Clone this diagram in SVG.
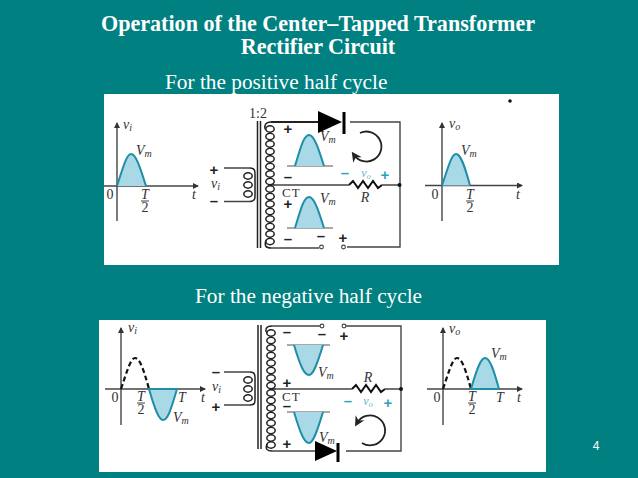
<svg xmlns="http://www.w3.org/2000/svg" xmlns:xlink="http://www.w3.org/1999/xlink" width="638" height="478" viewBox="0 0 638 478">
<style>
.h{font:bold 22.100px "Liberation Serif",serif;fill:#fff;text-anchor:middle}
.s{font:21.300px "Liberation Serif",serif;fill:#fff}
.w{fill:none;stroke:#444;stroke-width:1.4}
.k{fill:none;stroke:#222;stroke-width:1.8}
.ax{fill:none;stroke:#444;stroke-width:1.4}
.c{fill:none;stroke:#222;stroke-width:1.5}
.wave{fill:#a9d8e6;stroke:#1f8fa8;stroke-width:2}
.base{stroke:#555;stroke-width:1.1}
.dash{fill:none;stroke:#111;stroke-width:2.2;stroke-dasharray:5 3}
.t{font:14px "Liberation Serif",serif;fill:#333}
.i{font-style:italic}
.sub{font-size:10px}
.sg{font:bold 15px "Liberation Sans",sans-serif;fill:#222;text-anchor:middle}
.bl{font:bold 15px "Liberation Sans",sans-serif;fill:#2ba3bd;text-anchor:middle}
.vo{font:italic 12px "Liberation Serif",serif;fill:#5bb8cc;text-anchor:middle}
.m{text-anchor:middle}
.o{fill:#fff;stroke:#444;stroke-width:1.1}
.r{fill:none;stroke:#111;stroke-width:2}
.ct{font:13px "Liberation Serif",serif;fill:#333;letter-spacing:1px}
</style>
<defs>
<marker id="ah" viewBox="0 0 6 6" refX="5" refY="3" markerWidth="6" markerHeight="6" orient="auto" markerUnits="userSpaceOnUse"><path d="M0 0L6 3L0 6Z" fill="#333"/></marker>
<marker id="loop" viewBox="0 0 10 10" refX="6" refY="5" markerWidth="10" markerHeight="10" orient="auto" markerUnits="userSpaceOnUse"><path d="M0 0L10 5L0 10L3 5Z" fill="#222"/></marker>
<ellipse id="l" rx="4.200" ry="3.200" fill="none" stroke="#222" stroke-width="1.500"/>
</defs>
<rect id="background" width="638" height="478" fill="#008080"/>
<g id="titles">
<text class="h" x="318" y="31">Operation of the Center–Tapped Transformer</text>
<text class="h" x="318" y="54">Rectifier Circuit</text>
<text class="s" x="165" y="89">For the positive half cycle</text>
<text class="s" x="195" y="303">For the negative half cycle</text>
<text x="596" y="450" font-family="Liberation Sans,sans-serif" font-size="12" fill="#fff" text-anchor="middle">4</text>
</g>
<rect id="panel-top" x="104" y="94" width="455" height="171" fill="#fff"/>
<rect id="panel-bottom" x="99" y="320" width="447" height="152" fill="#fff"/>
<circle id="speck" cx="510" cy="101" r="1.800" fill="#111"/>

<g id="graph-vi-positive">
<path class="ax" d="M117 221V123" marker-end="url(#ah)"/>
<path class="ax" d="M104 186H198" marker-end="url(#ah)"/>
<path class="wave" d="M117 186C124 164 127 154 131 154C136 154 140 167 146 186"/>
<text class="t i" x="123" y="129">v<tspan class="sub" dy="2">i</tspan></text>
<text class="t i" x="136" y="155">V<tspan class="sub" dy="2">m</tspan></text>
<text class="t m" x="110" y="199">0</text>
<text class="t i m" x="145" y="199">T</text><path class="base" d="M141 201H149"/><text class="t m" x="145" y="212">2</text>
<text class="t i m" x="194" y="199">t</text>
</g>

<g id="transformer-top">
<path class="c" d="M257.500 121V248M260.500 121V248"/>
<path class="c" d="M271 122C264 122 264 128 266 130M266 240C264 246 266 248 271 248M268 185H275"/>
<use href="#l" x="270" y="129"/><use href="#l" x="270" y="136.500"/><use href="#l" x="270" y="144"/><use href="#l" x="270" y="151.500"/><use href="#l" x="270" y="159"/><use href="#l" x="270" y="166.500"/><use href="#l" x="270" y="174"/><use href="#l" x="270" y="181.500"/><use href="#l" x="270" y="189"/><use href="#l" x="270" y="196.500"/><use href="#l" x="270" y="204"/><use href="#l" x="270" y="211.500"/><use href="#l" x="270" y="219"/><use href="#l" x="270" y="226.500"/><use href="#l" x="270" y="234"/><use href="#l" x="270" y="241.500"/>
<path class="c" d="M250 168C256 168 255 172 255 180V190C255 198 256 201 250 201.500"/>
<use href="#l" x="248" y="176"/><use href="#l" x="248" y="185"/><use href="#l" x="248" y="194"/>
<text class="t m" x="258" y="118">1:2</text>
<text class="sg" x="214" y="174.500">+</text><text class="sg" x="214" y="206">–</text>
<text class="t i" x="211" y="188">v<tspan class="sub" dy="2">i</tspan></text>
<text class="ct" x="282" y="197">CT</text>
</g>
<g id="waves-top">
<path class="base" d="M287 166H333M287 228H333"/>
<path class="wave" d="M295 166C301 146 304 135 309 135C314 135 318 147 324 166"/>
<path class="wave" d="M295 228C301 208 304 197 309 197C314 197 318 209 324 228"/>
<text class="sg" x="288" y="133.500">+</text><text class="sg" x="288" y="182">–</text><text class="sg" x="288" y="208.500">+</text><text class="sg" x="288" y="244">–</text><text class="sg" x="321" y="241">–</text><text class="sg" x="343" y="242.500">+</text>
<text class="t i" x="320" y="141">V<tspan class="sub" dy="2">m</tspan></text>
<text class="t i" x="320" y="203">V<tspan class="sub" dy="2">m</tspan></text>
</g>
<g id="diode-top">
<path d="M318 111L342 122L318 133Z" fill="#000"/><path d="M344 112V134" stroke="#000" stroke-width="3"/>
</g>
<g id="resistor-top">
<path class="r" d="M349 185L353 181L358 188L363 181L368 188L373 181L378 188L382 185"/>
<text class="t i m" x="365" y="202">R</text>
<text class="bl" x="345" y="178">–</text><text class="vo" x="366" y="177">v<tspan font-size="8" dy="2">o</tspan></text><text class="bl" x="385" y="179.500">+</text>
</g>
<g id="connectors-top">
<path class="k" d="M271 122H318"/>
<path class="w" d="M350 122H400V247H347M275 185H349M382 185H400M271 248H319"/>
<path class="w" d="M224 168H250M224 201.500H250"/>
<circle cx="399.500" cy="185" r="2" fill="#111"/>
<circle class="o" cx="321.500" cy="247" r="1.900"/><circle class="o" cx="343.500" cy="247" r="1.900"/>
<path class="k" d="M360 133A15 15 0 1 1 354 155" marker-end="url(#loop)"/>
</g>
<g id="graph-vo-positive">
<path class="ax" d="M442 221V123" marker-end="url(#ah)"/>
<path class="ax" d="M425 185.500H522" marker-end="url(#ah)"/>
<path class="wave" d="M442 185.500C449 164 452 154 456 154C461 154 465 167 470 185.500"/>
<text class="t i" x="449" y="128">v<tspan class="sub" dy="2">o</tspan></text>
<text class="t i" x="461" y="155">V<tspan class="sub" dy="2">m</tspan></text>
<text class="t m" x="435" y="199">0</text>
<text class="t i m" x="470" y="199">T</text><path class="base" d="M466 201H474"/><text class="t m" x="470" y="212">2</text>
<text class="t i m" x="518" y="199">t</text>
</g>

<g id="graph-vi-negative">
<path class="ax" d="M121 425V328" marker-end="url(#ah)"/>
<path class="ax" d="M105 389H205" marker-end="url(#ah)"/>
<path class="dash" d="M121 389C128 368 131 358 135 358C140 358 144 371 149 389"/>
<path class="wave" d="M149 389C155 410 159 420 163 420C168 420 171 409 177 389Z"/>
<text class="t i" x="128" y="332">v<tspan class="sub" dy="2">i</tspan></text>
<text class="t i" x="173" y="422">V<tspan class="sub" dy="2">m</tspan></text>
<text class="t m" x="115" y="402">0</text>
<text class="t i m" x="141" y="401">T</text><path class="base" d="M137 403H145"/><text class="t m" x="141" y="414">2</text>
<text class="t i m" x="182" y="402">T</text><text class="t i m" x="203" y="402">t</text>
</g>
<g id="transformer-bottom">
<path class="c" d="M258 325V449M261 325V449"/>
<path class="c" d="M272 326C265 326 265 331 267 333M267 444C265 449 267 451 272 451M269 389H276"/>
<use href="#l" x="271" y="333"/><use href="#l" x="271" y="340.500"/><use href="#l" x="271" y="348"/><use href="#l" x="271" y="355.500"/><use href="#l" x="271" y="363"/><use href="#l" x="271" y="370.500"/><use href="#l" x="271" y="378"/><use href="#l" x="271" y="385.500"/><use href="#l" x="271" y="393"/><use href="#l" x="271" y="400.500"/><use href="#l" x="271" y="408"/><use href="#l" x="271" y="415.500"/><use href="#l" x="271" y="423"/><use href="#l" x="271" y="430.500"/><use href="#l" x="271" y="438"/><use href="#l" x="271" y="445"/>
<path class="c" d="M250 372C256 372 255 376 255 384V394C255 402 256 405 250 405"/>
<use href="#l" x="248" y="380"/><use href="#l" x="248" y="389"/><use href="#l" x="248" y="398"/>
<text class="sg" x="216" y="377">–</text><text class="sg" x="216" y="411.500">+</text>
<text class="t i" x="212" y="391">v<tspan class="sub" dy="2">i</tspan></text>
<text class="ct" x="282" y="401">CT</text>
</g>
<g id="waves-bottom">
<path class="base" d="M287 345H330M287 412H330"/>
<path class="wave" d="M294 345C300 365 304 375 309 375C313 375 317 365 323 345"/>
<path class="wave" d="M294 412C300 432 304 443 309 443C313 443 317 432 323 412"/>
<text class="sg" x="287" y="337">–</text><text class="sg" x="322" y="339">–</text><text class="sg" x="287" y="387.500">+</text><text class="sg" x="287" y="411">–</text><text class="sg" x="287" y="448.500">+</text><text class="sg" x="344" y="340.500">+</text>
<text class="t i" x="318" y="377">V<tspan class="sub" dy="2">m</tspan></text>
<text class="t i" x="319" y="442">V<tspan class="sub" dy="2">m</tspan></text>
</g>
<g id="diode-bottom">
<path d="M315 441L337 451L315 461Z" fill="#000"/><path d="M338 443V462" stroke="#000" stroke-width="3"/>
</g>
<g id="resistor-bottom">
<path class="r" d="M352 389L356 385L361 392L366 385L371 392L376 385L381 392L385 389"/>
<text class="t i m" x="368" y="382">R</text>
<text class="bl" x="348" y="406">–</text><text class="vo" x="368" y="405">v<tspan font-size="8" dy="2">o</tspan></text><text class="bl" x="388" y="407.500">+</text>
</g>
<g id="connectors-bottom">
<path class="w" d="M272 326H320M346 326H401V451H346M276 389H352M385 389H401M272 451H315"/>
<path class="w" d="M224 372H250M224 405H250"/>
<circle cx="401" cy="389" r="2" fill="#111"/>
<circle class="o" cx="322" cy="326" r="1.900"/><circle class="o" cx="344" cy="326" r="1.900"/>
<path class="k" d="M362 443A15 15 0 1 0 357 423" marker-end="url(#loop)"/>
</g>
<g id="graph-vo-negative">
<path class="ax" d="M443 425V328" marker-end="url(#ah)"/>
<path class="ax" d="M427 389H522" marker-end="url(#ah)"/>
<path class="dash" d="M443 389C450 368 453 358 457 358C462 358 466 371 471 389"/>
<path class="wave" d="M471 389C477 368 481 358 485 358C490 358 494 371 499 389Z"/>
<text class="t i" x="449" y="333">v<tspan class="sub" dy="2">o</tspan></text>
<text class="t i" x="491" y="358">V<tspan class="sub" dy="2">m</tspan></text>
<text class="t m" x="437" y="402">0</text>
<text class="t i m" x="472" y="401">T</text><path class="base" d="M468 403H476"/><text class="t m" x="472" y="414">2</text>
<text class="t i m" x="500" y="402">T</text><text class="t i m" x="519" y="402">t</text>
</g>
</svg>
